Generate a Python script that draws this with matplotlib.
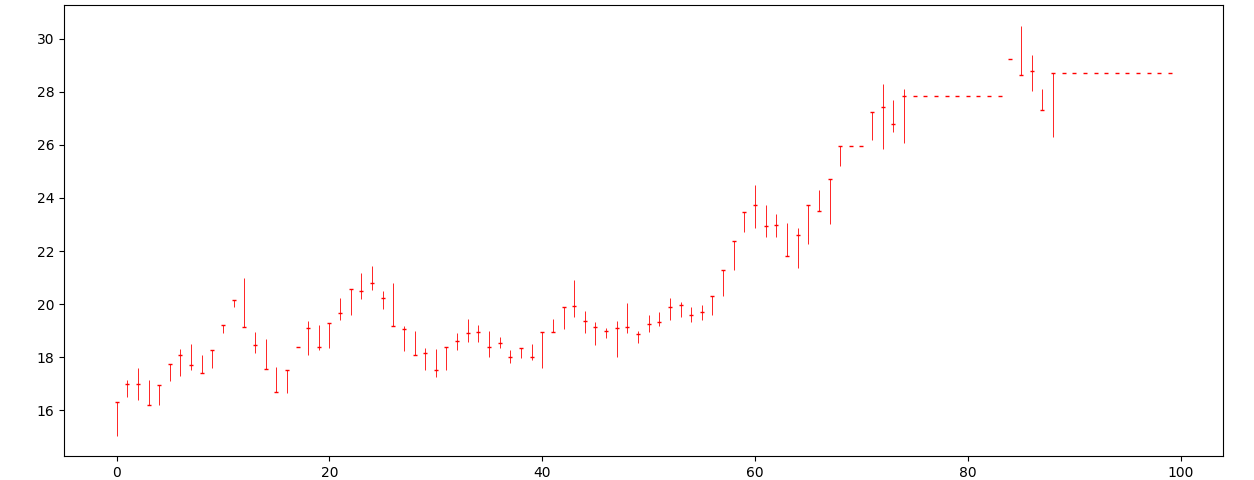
import matplotlib
matplotlib.use('Agg')
import matplotlib.pyplot as plt
import numpy as np

# close / high / low per step
close = [16.31, 17.00, 17.00, 16.18, 16.94, 17.76, 18.10, 17.71, 17.39, 18.28,
         19.20, 20.15, 19.12, 18.45, 17.54, 16.69, 17.52, 18.38, 19.09, 18.38,
         19.30, 19.65, 20.58, 20.50, 20.80, 20.22, 19.19, 19.05, 18.10, 18.17,
         17.50, 18.38, 18.60, 18.92, 18.96, 18.40, 18.52, 17.99, 18.36, 18.02,
         18.96, 18.95, 19.90, 19.94, 19.38, 19.15, 18.98, 19.09, 19.15, 18.89,
         19.26, 19.34, 19.90, 19.98, 19.58, 19.71, 20.29, 21.30, 22.36, 23.47,
         23.73, 22.95, 22.99, 21.83, 22.61, 23.73, 23.51, 24.72, 25.95, 25.95,
         25.95, 27.24, 27.43, 26.79, 27.84, 27.84, 27.84, 27.84, 27.84, 27.84,
         27.84, 27.84, 27.84, 27.84, 29.25, 28.63, 28.77, 27.32, 28.70, 28.70,
         28.70, 28.70, 28.70, 28.70, 28.70, 28.70, 28.70, 28.70, 28.70, 28.70]

high = [16.31, 17.13, 17.58, 17.13, 16.94, 17.76, 18.30, 18.51, 18.07, 18.28,
        19.20, 20.15, 21.00, 18.96, 18.67, 17.62, 17.52, 18.38, 19.35, 19.20,
        19.30, 20.22, 20.58, 21.17, 21.42, 20.49, 20.78, 19.19, 19.00, 18.36,
        18.30, 18.38, 18.92, 19.45, 19.20, 19.00, 18.77, 18.28, 18.36, 18.50,
        18.96, 19.42, 19.90, 20.89, 19.75, 19.34, 19.09, 19.38, 20.03, 18.98,
        19.59, 19.69, 20.22, 20.08, 19.90, 19.98, 20.29, 21.30, 22.36, 23.47,
        24.48, 23.74, 23.41, 23.06, 22.85, 23.73, 24.29, 24.72, 25.95, 25.95,
        25.95, 27.24, 28.28, 27.68, 28.10, 27.84, 27.84, 27.84, 27.84, 27.84,
        27.84, 27.84, 27.84, 27.84, 29.25, 30.49, 29.40, 28.10, 28.70, 28.70,
        28.70, 28.70, 28.70, 28.70, 28.70, 28.70, 28.70, 28.70, 28.70, 28.70]

low = [15.03, 16.48, 16.38, 16.18, 16.20, 17.10, 17.28, 17.53, 17.39, 17.59,
       18.91, 19.90, 19.12, 18.17, 17.54, 16.69, 16.65, 18.38, 18.10, 18.28,
       18.35, 19.40, 19.58, 20.20, 20.55, 19.81, 19.19, 18.23, 18.10, 17.53,
       17.25, 17.50, 18.27, 18.59, 18.56, 18.02, 18.33, 17.78, 17.95, 17.89,
       17.59, 18.95, 19.07, 19.50, 18.92, 18.47, 18.72, 18.02, 18.91, 18.55,
       18.94, 19.16, 19.40, 19.53, 19.32, 19.40, 19.60, 20.32, 21.30, 22.71,
       22.86, 22.52, 22.52, 21.83, 21.37, 22.27, 23.51, 23.01, 25.20, 25.95,
       25.95, 26.17, 25.86, 26.50, 26.06, 27.84, 27.84, 27.84, 27.84, 27.84,
       27.84, 27.84, 27.84, 27.84, 29.25, 28.63, 28.05, 27.32, 26.30, 28.70,
       28.70, 28.70, 28.70, 28.70, 28.70, 28.70, 28.70, 28.70, 28.70, 28.70]

x = np.arange(len(close))
close = np.array(close)
high = np.array(high)
low = np.array(low)

fig, ax = plt.subplots(figsize=(12.54, 4.8), dpi=100)
fig.subplots_adjust(left=0.051, right=0.975, bottom=0.049, top=0.989)

ax.errorbar(x, close, yerr=[close - low, high - close], fmt='_', color='red',
            ecolor='red', elinewidth=0.6, markersize=3, markeredgewidth=1.0)

fig.savefig('out.png', dpi=100)
